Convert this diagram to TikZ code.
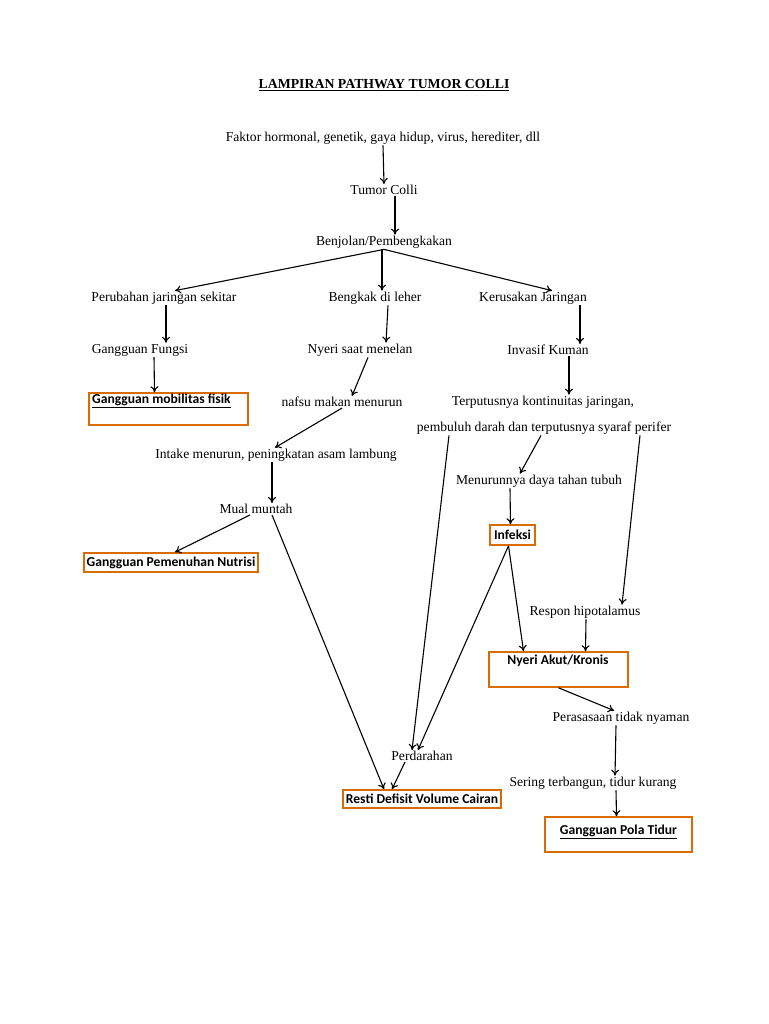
\documentclass[tikz,border=0pt]{standalone}
\usepackage{fontspec}
\setmainfont{Liberation Serif}
\newfontfamily\calib{Carlito}
\usetikzlibrary{arrows.meta}
\begin{document}
\begin{tikzpicture}[x=1pt,y=-1pt,
  txt/.style={inner sep=1pt,font=\fontsize{13.6}{15}\selectfont},
  bx/.style={draw=orange!85!black,line width=1.6pt,inner sep=0pt},
  bt/.style={inner sep=1pt,font=\calib\bfseries\fontsize{13.6}{15}\selectfont},
  arr/.style={-{To[length=6pt,width=8pt]},line width=1.1pt}]
\useasboundingbox (0,0) rectangle (768,1024);
\node[txt,font=\bfseries\fontsize{13.8}{15}\selectfont] (title) at (384,85) {\underline{LAMPIRAN PATHWAY TUMOR COLLI}};
\node[txt] (faktor) at (383,138) {Faktor hormonal, genetik, gaya hidup, virus, herediter, dll};
\node[txt] (tumor) at (384,190) {Tumor Colli};
\node[txt] (benj) at (384,242) {Benjolan/Pembengkakan};
\node[txt] (perub) at (164,298) {Perubahan jaringan sekitar};
\node[txt] (bengkak) at (375,298) {Bengkak di leher};
\node[txt] (kerus) at (533,298) {Kerusakan Jaringan};
\node[txt] (gfungsi) at (140,350) {Gangguan Fungsi};
\node[txt] (nyeri) at (360,350) {Nyeri saat menelan};
\node[txt] (invasif) at (548,350) {Invasif Kuman};
\node[bx,minimum width=159,minimum height=32] (mob) at (168.5,409) {};
\node[bt,anchor=north west] (mobt) at (91,393) {\underline{Gangguan mobilitas fisik}};
\node[txt] (nafsu) at (342,402) {nafsu makan menurun};
\node[txt] (terput) at (543,402) {Terputusnya kontinuitas jaringan,};
\node[txt] (pemb) at (544,428) {pembuluh darah dan terputusnya syaraf perifer};
\node[txt] (intake) at (276,455) {Intake menurun, peningkatan asam lambung};
\node[txt] (menur) at (539,481) {Menurunnya daya tahan tubuh};
\node[txt] (mual) at (256,509) {Mual muntah};
\node[bx,minimum width=45,minimum height=20] (inf) at (512.5,535) {};
\node[bt] (inft) at (512.5,535) {Infeksi};
\node[bx,minimum width=174,minimum height=19] (nutr) at (171,562.5) {};
\node[bt] (nutrt) at (171,562.5) {Gangguan Pemenuhan Nutrisi};
\node[txt] (respon) at (585,612) {Respon hipotalamus};
\node[bx,minimum width=139,minimum height=35] (nak) at (558.5,669.5) {};
\node[bt] (nakt) at (558,661) {Nyeri Akut/Kronis};
\node[txt] (perasa) at (621,718) {Perasasaan tidak nyaman};
\node[txt] (perd) at (422,756) {Perdarahan};
\node[txt] (sering) at (593,783) {Sering terbangun, tidur kurang};
\node[bx,minimum width=158,minimum height=18] (resti) at (422,799) {};
\node[bt] (restit) at (422,799) {Resti Defisit Volume Cairan};
\node[bx,minimum width=147,minimum height=35] (pola) at (618.5,834.5) {};
\node[bt] (polat) at (618.5,832) {\underline{Gangguan Pola Tidur}};

\draw[arr] (faktor.south) -- (tumor.north);
\draw[arr] ([xshift=11]tumor.south) -- ([xshift=11]benj.north);
\draw[arr] (benj.south) -- ([xshift=11]perub.north);
\draw[arr] ([xshift=-2]benj.south) -- ([xshift=7]bengkak.north);
\draw[arr] (benj.south) -- ([xshift=19]kerus.north);
\draw[arr] ([xshift=2]perub.south) -- ([xshift=26]gfungsi.north);
\draw[arr] ([xshift=13]bengkak.south) -- ([xshift=26]nyeri.north);
\draw[arr] ([xshift=47]kerus.south) -- ([xshift=32]invasif.north);
\draw[arr] ([xshift=14]gfungsi.south) -- ([xshift=-14]mob.north);
\draw[arr] ([xshift=8]nyeri.south) -- ([xshift=10]nafsu.north);
\draw[arr] ([xshift=21]invasif.south) -- ([xshift=26]terput.north);
\draw[arr] (nafsu.south) -- ([xshift=-1]intake.north);
\draw[arr] ([xshift=-4]intake.south) -- ([xshift=16]mual.north);
\draw[arr] ([xshift=-6]mual.south) -- ([xshift=4]nutr.north);
\draw[arr] ([xshift=16]mual.south) -- ([xshift=-38]resti.north);
\draw[arr] ([xshift=-3]pemb.south) -- ([xshift=-19]menur.north);
\draw[arr] ([xshift=-95]pemb.south) -- ([xshift=-10]perd.north);
\draw[arr] ([xshift=96]pemb.south) -- ([xshift=37]respon.north);
\draw[arr] ([xshift=-29]menur.south) -- ([xshift=-2]inf.north);
\draw[arr] ([xshift=-4]inf.south) -- ([xshift=-4]perd.north);
\draw[arr] ([xshift=-4]inf.south) -- ([xshift=-35]nak.north);
\draw[arr] ([xshift=1]respon.south) -- ([xshift=27]nak.north);
\draw[arr] (nak.south) -- ([xshift=-7]perasa.north);
\draw[arr] ([xshift=-5]perasa.south) -- ([xshift=22]sering.north);
\draw[arr] ([xshift=23]sering.south) -- ([xshift=-2]pola.north);
\draw[arr] ([xshift=-17]perd.south) -- ([xshift=-30]resti.north);
\end{tikzpicture}
\end{document}
